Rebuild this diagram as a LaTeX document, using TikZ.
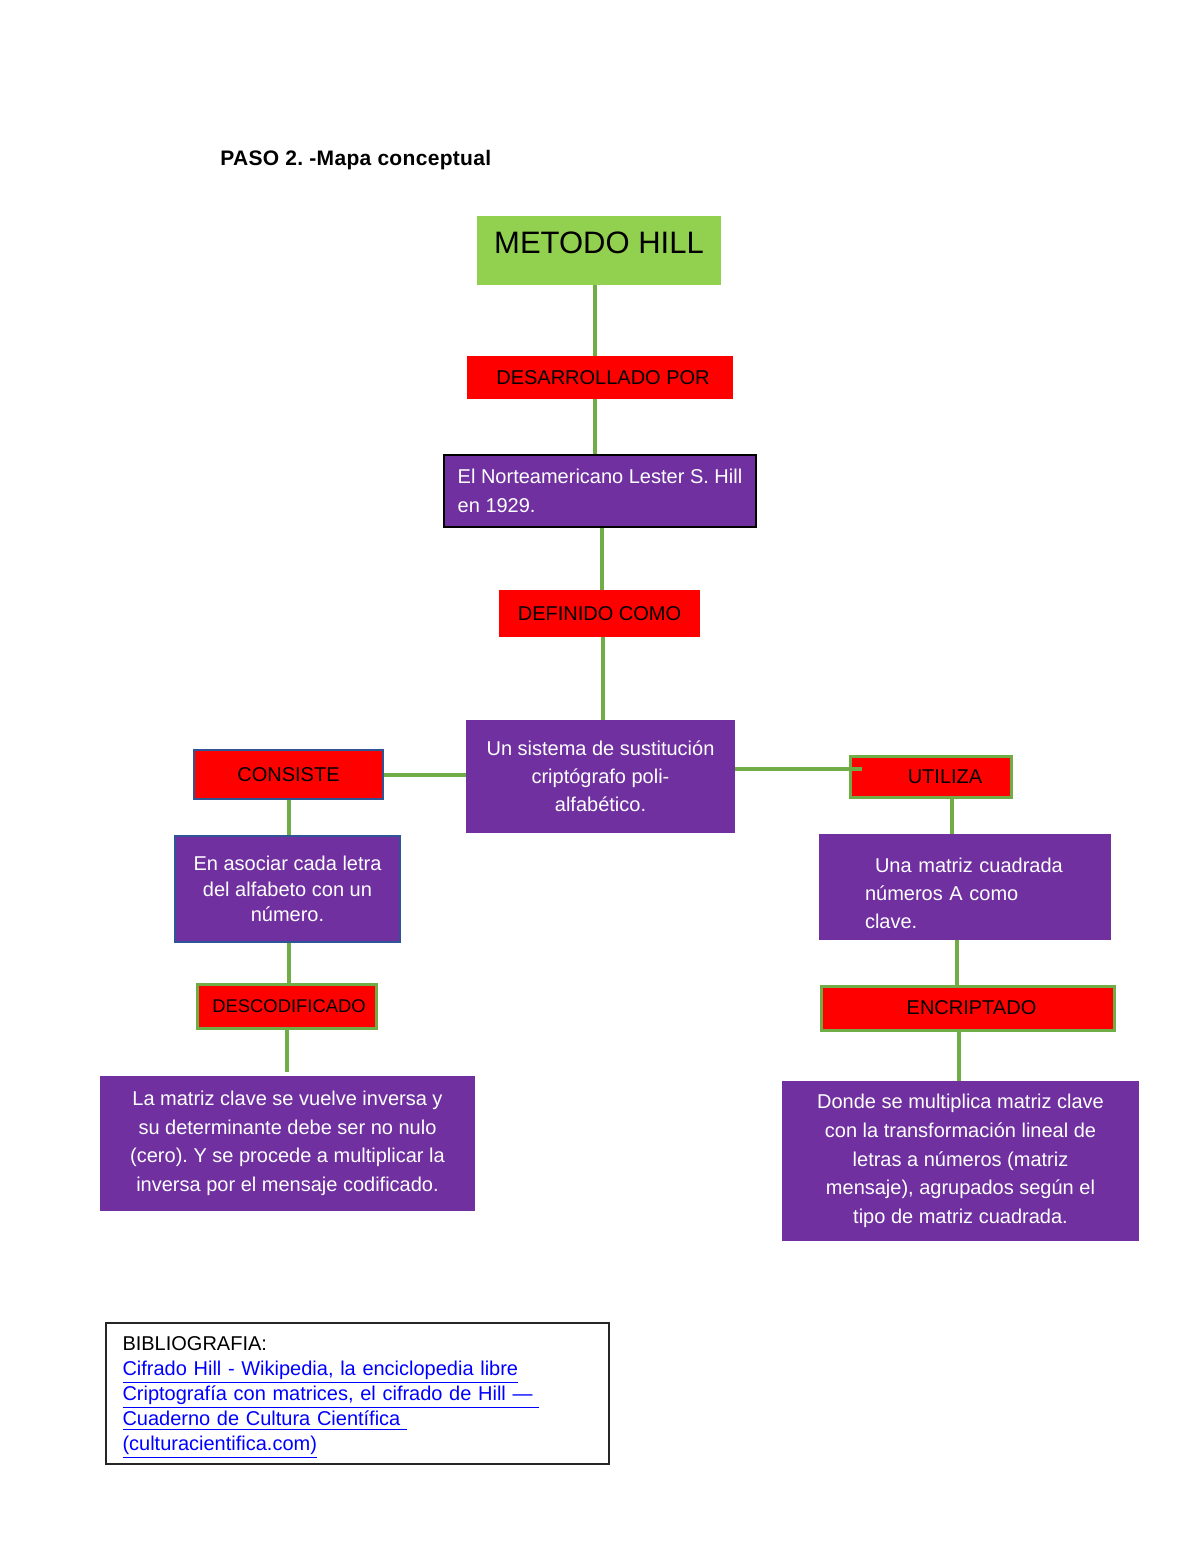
\documentclass[tikz,border=0pt]{standalone}
\usepackage{fontspec}
\setmainfont{Liberation Sans}
\usetikzlibrary{calc}
\definecolor{boxred}{RGB}{255,0,0}
\definecolor{boxpurple}{RGB}{112,48,160}
\definecolor{titlegreen}{RGB}{146,208,80}
\definecolor{linkgreen}{RGB}{112,173,71}
\definecolor{borderblue}{RGB}{47,85,151}
\definecolor{linkblue}{RGB}{0,0,255}
\newcommand\bxfont{\fontsize{10pt}{14.3pt}\selectfont}
\frenchspacing
\tikzset{
  redbox/.style={fill=boxred, text=black, inner sep=0pt, align=center, font=\bxfont},
  purplebox/.style={fill=boxpurple, text=white, inner sep=0pt, align=center, font=\bxfont},
  greenedge/.style={draw=linkgreen, line width=1.5pt},
  blueedge/.style={draw=borderblue, line width=1pt},
  link/.style={draw=linkgreen, line width=2pt},
}
\begin{document}
\begin{tikzpicture}[x=0.5pt,y=-0.5pt]
\useasboundingbox[fill=white] (0,0) rectangle (1200,1553);

\node[anchor=base west, inner sep=0pt, font=\fontsize{10.5pt}{12pt}\selectfont\bfseries\addfontfeature{LetterSpace=1.5}] (title) at (220,165) {PASO 2. -Mapa conceptual};

\node[fill=titlegreen, inner sep=0pt, minimum width=122pt, minimum height=34.5pt,
      font=\fontsize{15.5pt}{18pt}\selectfont, text height=12pt, text depth=9.4pt] (met) at (599,250.5) {METODO HILL};

\node[redbox, minimum width=133pt, minimum height=21.5pt] (des) at (600,377.5) {\hspace*{3pt}DESARROLLADO POR};

\node[purplebox, draw=black, line width=1.2pt, align=left, minimum width=156pt, minimum height=36pt] (nor) at (600,491)
  {El Norteamericano Lester S. Hill\\en 1929.};

\node[redbox, minimum width=100.5pt, minimum height=23.5pt] (def) at (599.5,613.5) {DEFINIDO COMO};

\node[purplebox, minimum width=134.5pt, minimum height=56.5pt, font=\fontsize{10pt}{14pt}\selectfont] (sis) at (600.5,776.5)
  {Un sistema de sustitución\\criptógrafo poli-\\alfabético.};

\node[redbox, blueedge, minimum width=94.5pt, minimum height=24.5pt] (con) at (288.5,774.5) {CONSISTE};

\node[purplebox, blueedge, minimum width=112.5pt, minimum height=53pt, font=\fontsize{10pt}{12.6pt}\selectfont] (aso) at (287.5,889)
  {En asociar cada letra\\del alfabeto con un\\número.};

\node[redbox, greenedge, minimum width=89.5pt, minimum height=22pt, font=\fontsize{9.2pt}{11pt}\selectfont] (dsc) at (286.5,1006) {\hspace*{2.5pt}DESCODIFICADO};

\node[purplebox, minimum width=187.5pt, minimum height=67.5pt] (inv) at (287.5,1143.5)
  {La matriz clave se vuelve inversa y\\su determinante debe ser no nulo\\(cero). Y se procede a multiplicar la\\inversa por el mensaje codificado.};

\node[redbox, greenedge, minimum width=80.5pt, minimum height=20.5pt] (uti) at (930.5,776.5) {\hspace*{14.5pt}UTILIZA};

\node[purplebox, align=left, text width=100pt, inner xsep=23pt, minimum width=146pt, minimum height=53pt,
      font=\fontsize{10pt}{14pt}\selectfont] (cua) at (965,887)
  {\rule{0pt}{13.5pt}\hspace*{5pt}Una matriz cuadrada\\números A como\\clave.};

\node[redbox, greenedge, minimum width=146.5pt, minimum height=22pt] (enc) at (967.5,1008) {\hspace*{4pt}ENCRIPTADO};

\node[purplebox, minimum width=178.5pt, minimum height=80pt] (don) at (960.5,1161)
  {Donde se multiplica matriz clave\\con la transformación lineal de\\letras a números (matriz\\mensaje), agrupados según el\\tipo de matriz cuadrada.};

\node[draw=black!85, line width=0.7pt, fill=white, align=left, text width=235pt, inner xsep=8pt, inner ysep=0pt,
      minimum width=251.5pt, minimum height=70.5pt, font=\fontsize{10pt}{12.5pt}\selectfont] (bib) at (357.5,1393.5)
  {\rule{0pt}{11.5pt}BIBLIOGRAFIA:\\
   \textcolor{linkblue}{\underline{Cifrado Hill - Wikipedia, la enciclopedia libre}}\\
   \textcolor{linkblue}{\underline{Criptografía con matrices, el cifrado de Hill —\ }}\\
   \textcolor{linkblue}{\underline{Cuaderno de Cultura Científica\ }}\\
   \textcolor{linkblue}{\underline{(culturacientifica.com)}}};

% connectors
\draw[link] ([xshift=-2pt]met.south) -- ([xshift=-2pt]met.south |- des.north);
\draw[link] ([xshift=-2.5pt]des.south) -- ([xshift=-2.5pt]des.south |- nor.north);
\draw[link] ([xshift=1pt]nor.south) -- ([xshift=1pt]nor.south |- def.north);
\draw[link] ([xshift=1.75pt]def.south) -- ([xshift=1.75pt]def.south |- sis.north);
\draw[link] ([yshift=0.75pt]sis.west) -- ([yshift=0.75pt]sis.west -| con.east);
\draw[link] (con.south) -- (con.south |- aso.north);
\draw[link] ([xshift=0.75pt]aso.south) -- ([xshift=0.75pt]aso.south |- dsc.north);
\draw[link] (dsc.south) -- ([yshift=2pt]dsc.south |- inv.north);
\draw[link] ([yshift=3.75pt]sis.east) -- ([yshift=3.75pt,xshift=6.5pt]sis.east -| uti.west);
\draw[link] ([xshift=10.75pt]uti.south) -- ([xshift=10.75pt]uti.south |- cua.north);
\draw[link] ([xshift=-4pt]cua.south) -- ([xshift=-4pt]cua.south |- enc.north);
\draw[link] ([xshift=-4.25pt]enc.south) -- ([xshift=-4.25pt]enc.south |- don.north);
\end{tikzpicture}
\end{document}
